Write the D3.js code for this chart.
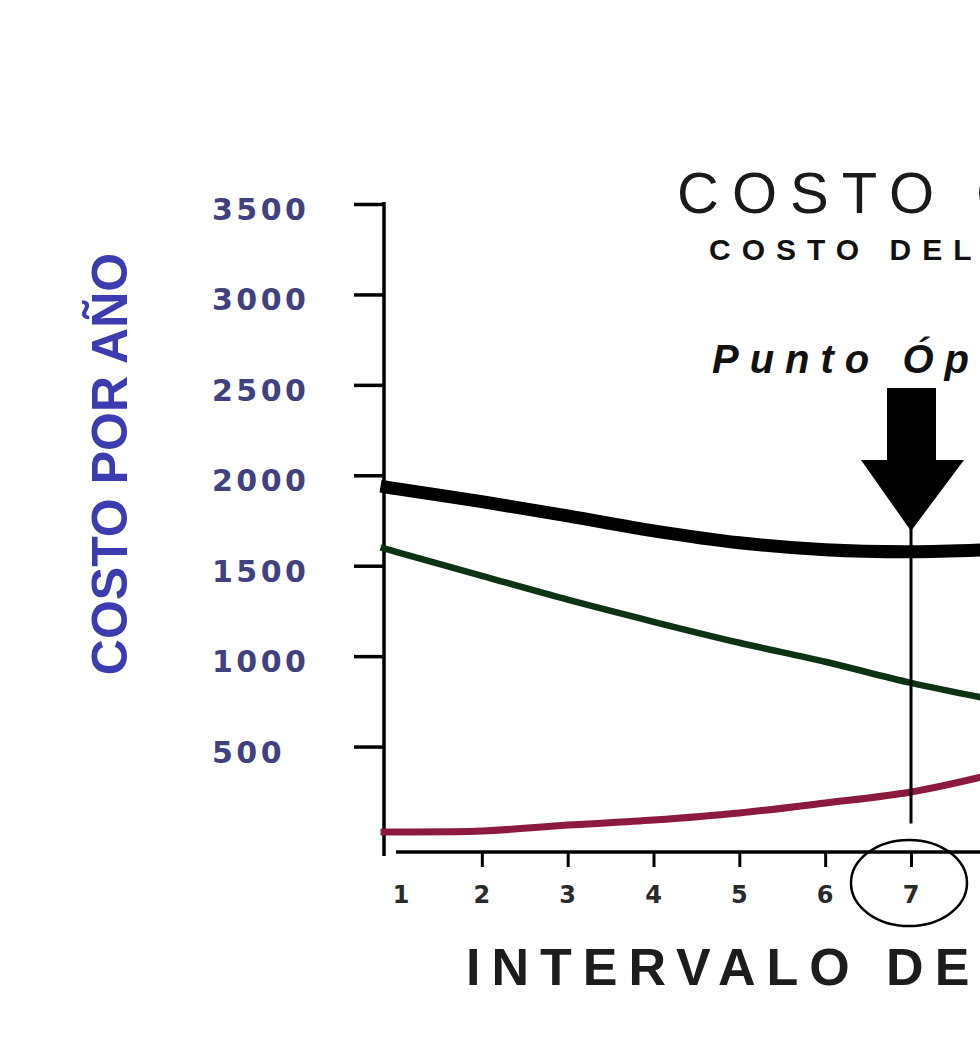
<!DOCTYPE html>
<html>
<head>
<meta charset="utf-8">
<script src="https://cdn.jsdelivr.net/npm/d3@7"></script>
<style>
  html, body { margin: 0; padding: 0; background: #fff; overflow: hidden; }
  svg { display: block; }
</style>
</head>
<body>
<svg width="980" height="1043"></svg>
<script>
// data
var intervalos = [0.82, 1, 2, 3, 4, 5, 6, 7, 8];
var costoTotal = [1940, 1926, 1854, 1776, 1693, 1627, 1588, 1577, 1590];
var costoFalla = [1602, 1577, 1444, 1312, 1190, 1074, 969, 852, 755];
var costoMantenimiento = [28, 28, 33, 66, 94, 133, 188, 249, 352];
var xTicks = [1, 2, 3, 4, 5, 6, 7];
var yTicks = [500, 1000, 1500, 2000, 2500, 3000, 3500];
var optimo = 7;

(function () {
    var svg = d3.select("svg");
    var width = +svg.attr("width");

    var x = d3.scaleLinear().domain([1, 7]).range([396, 911]);
    var y = d3.scaleLinear().domain([0, 3500]).range([837, 204]);

    // titles (the picture is cut at the right edge, so these run off it)
    svg.append("text")
        .attr("x", 677).attr("y", 213)
        .style("font-family", "Liberation Sans, Arial, sans-serif")
        .style("font-size", "58px")
        .style("letter-spacing", "13px")
        .attr("fill", "#1a1a1a")
        .text("COSTO ÓPTIMO");

    svg.append("text")
        .attr("x", 709).attr("y", 260)
        .style("font-family", "Liberation Sans, Arial, sans-serif")
        .style("font-size", "30px")
        .style("font-weight", "bold")
        .style("letter-spacing", "11px")
        .attr("fill", "#111")
        .text("COSTO DEL MANTENIMIENTO");

    svg.append("text")
        .attr("x", 712).attr("y", 373)
        .style("font-family", "Liberation Sans, Arial, sans-serif")
        .style("font-size", "40px")
        .style("font-weight", "bold")
        .style("font-style", "italic")
        .style("letter-spacing", "11px")
        .attr("fill", "#111")
        .text("Punto Óptimo");

    // y axis
    var gy = svg.append("g").attr("transform", "translate(384,0)");
    gy.call(d3.axisLeft(y).tickValues(yTicks).tickSize(30).tickSizeOuter(0).tickFormat(""));
    gy.select(".domain").remove();
    gy.selectAll(".tick line").attr("stroke", "#000").attr("stroke-width", 3.5);
    gy.append("line")
        .attr("x1", 0).attr("x2", 0)
        .attr("y1", y(3500) - 2).attr("y2", y(0) + 19)
        .attr("stroke", "#000").attr("stroke-width", 3.5);

    svg.selectAll(".ylab")
        .data(yTicks)
        .enter().append("text")
        .attr("class", "ylab")
        .attr("x", 212)
        .attr("y", function (d) { return y(d) + 16; })
        .style("font-family", "DejaVu Sans, sans-serif")
        .style("font-size", "30px")
        .style("font-weight", "bold")
        .style("letter-spacing", "3.5px")
        .attr("fill", "#41417f")
        .text(function (d) { return d; });

    svg.append("text")
        .attr("transform", "translate(127,464) rotate(-90)")
        .attr("text-anchor", "middle")
        .style("font-family", "Liberation Sans, Arial, sans-serif")
        .style("font-size", "50px")
        .style("font-weight", "bold")
        .attr("fill", "#3c3cb0")
        .text("COSTO POR AÑO");

    // x axis
    var gx = svg.append("g").attr("transform", "translate(0,852)");
    gx.call(d3.axisBottom(x).tickValues(xTicks.slice(1)).tickSize(15).tickSizeOuter(0).tickFormat(""));
    gx.select(".domain").remove();
    gx.selectAll(".tick line").attr("stroke", "#000").attr("stroke-width", 3);
    gx.append("line")
        .attr("x1", x(1)).attr("x2", width + 20)
        .attr("y1", 0).attr("y2", 0)
        .attr("stroke", "#000").attr("stroke-width", 3.5);

    svg.selectAll(".xlab")
        .data(xTicks)
        .enter().append("text")
        .attr("class", "xlab")
        .attr("x", function (d) { return x(d) + (d === 1 ? 5 : 0); })
        .attr("y", 903)
        .attr("text-anchor", "middle")
        .style("font-family", "DejaVu Sans, sans-serif")
        .style("font-size", "24px")
        .style("font-weight", "bold")
        .attr("fill", "#2a2a2a")
        .text(function (d) { return d; });

    svg.append("text")
        .attr("x", 466).attr("y", 985)
        .style("font-family", "Liberation Sans, Arial, sans-serif")
        .style("font-size", "52px")
        .style("font-weight", "bold")
        .style("letter-spacing", "11px")
        .attr("fill", "#1c1c1c")
        .text("INTERVALO DE MANTENIMIENTO");

    // curves
    var line = d3.line()
        .x(function (d) { return x(d[0]); })
        .y(function (d) { return y(d[1]); })
        .curve(d3.curveCatmullRom);

    function serie(vals) {
        return intervalos.map(function (v, i) { return [v, vals[i]]; });
    }

    svg.append("path")
        .datum(serie(costoMantenimiento))
        .attr("d", line)
        .attr("fill", "none")
        .attr("stroke", "#8b1a3e")
        .attr("stroke-width", 7);

    svg.append("path")
        .datum(serie(costoFalla))
        .attr("d", line)
        .attr("fill", "none")
        .attr("stroke", "#0e3314")
        .attr("stroke-width", 6.5);

    svg.append("path")
        .datum(serie(costoTotal))
        .attr("d", line)
        .attr("fill", "none")
        .attr("stroke", "#000")
        .attr("stroke-width", 13);

    // optimum marker
    var xo = x(optimo);
    svg.append("line")
        .attr("x1", xo).attr("x2", xo)
        .attr("y1", 528).attr("y2", y(75))
        .attr("stroke", "#000").attr("stroke-width", 3);

    svg.append("rect")
        .attr("x", xo - 24).attr("y", 388)
        .attr("width", 49).attr("height", 74)
        .attr("fill", "#000");

    svg.append("path")
        .attr("d", "M" + (xo - 50) + ",460L" + (xo + 53) + ",460L" + xo + ",531Z")
        .attr("fill", "#000");

    svg.append("ellipse")
        .attr("cx", xo - 2).attr("cy", 883)
        .attr("rx", 58).attr("ry", 43)
        .attr("fill", "none")
        .attr("stroke", "#000").attr("stroke-width", 2.5);
}());
</script>
</body>
</html>
